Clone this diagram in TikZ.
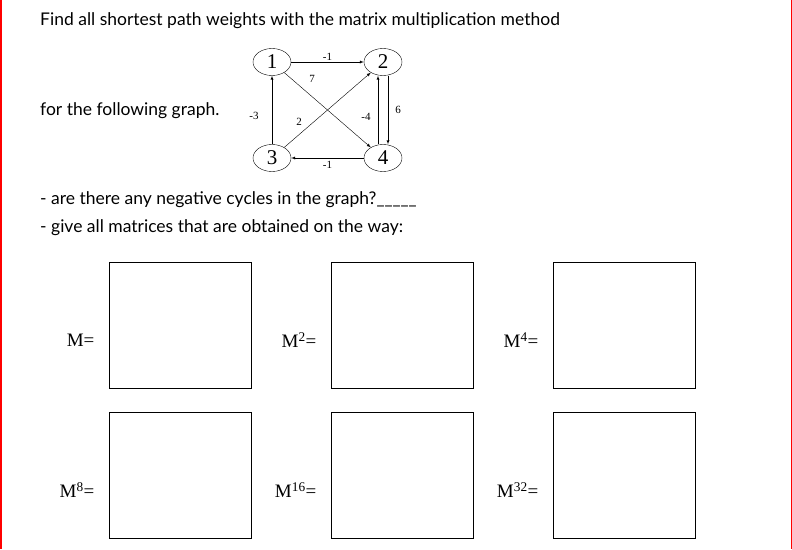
\documentclass[tikz,border=0pt]{standalone}
\usepackage{fontspec}
\usetikzlibrary{shapes.geometric}
\setmainfont{Lato}
\newfontfamily\tms{Liberation Serif}
\begin{document}
\begin{tikzpicture}[x=1pt,y=-1pt,
 vtx/.style={ellipse,draw,minimum width=38,minimum height=27,inner sep=0,font=\tms\fontsize{21}{21}\selectfont},
 wt/.style={font=\tms\fontsize{11}{11}\selectfont,inner sep=1},
 arr/.style={-latex,thin},
 mbox/.style={draw,thick,minimum width=142,minimum height=126,inner sep=0},
 ml/.style={font=\tms\fontsize{19}{19}\selectfont,inner sep=0},
 txt/.style={anchor=west,inner sep=0,font=\fontsize{17.5}{17.5}\selectfont}]
\useasboundingbox (0,0) rectangle (792,549);
\draw[red,line width=1.5] (0.75,0) -- (0.75,549);
\draw[red,line width=1.5] (791.25,0) -- (791.25,549);
\node[txt] (t1) at (40,21) {Find all shortest path weights with the matrix multiplication method};
\node[txt] (t2) at (40,111) {for the following graph.};
\node[txt] (t3) at (40,200) {- are there any negative cycles in the graph?\_\_\_\_\_};
\node[txt] (t4) at (40,228) {- give all matrices that are obtained on the way:};
\node[vtx] (n1) at (272,62) {1};
\node[vtx] (n2) at (383,62) {2};
\node[vtx] (n3) at (272,158) {3};
\node[vtx] (n4) at (383,158) {4};
\draw[arr] (n1) -- node[wt,above] {-1} (n2);
\draw[arr] (n1) -- (n4);
\node[wt] (w7) at (312,79) {7};
\draw[arr] (n3) -- (n2);
\node[wt] (w2) at (299,122) {2};
\draw[arr] (n3) -- (n1);
\node[wt] (w3) at (254,116) {-3};
\draw[arr] (n4) -- node[wt,below=2pt] {-1} (n3);
\draw[arr] ([xshift=-5pt]n4.north) -- ([xshift=-5pt]n2.south);
\node[wt] (w4) at (366,117) {-4};
\draw[arr] ([xshift=5pt]n2.south) -- ([xshift=5pt]n4.north);
\node[wt] (w6) at (398,110) {6};
\foreach \c/\r/\l/\nm in {180/325/M=/a,402/325/M\textsuperscript{2}=/b,624/325/M\textsuperscript{4}=/c,180/475/M\textsuperscript{8}=/d,402/475/M\textsuperscript{16}=/e,624/475/M\textsuperscript{32}=/f}{
 \node[mbox] (b\nm) at (\c,\r) {};
 \node[ml,anchor=east] (l\nm) at ([xshift=-14pt,yshift=-15pt]b\nm.west) {\l};
}
\end{tikzpicture}
\end{document}
